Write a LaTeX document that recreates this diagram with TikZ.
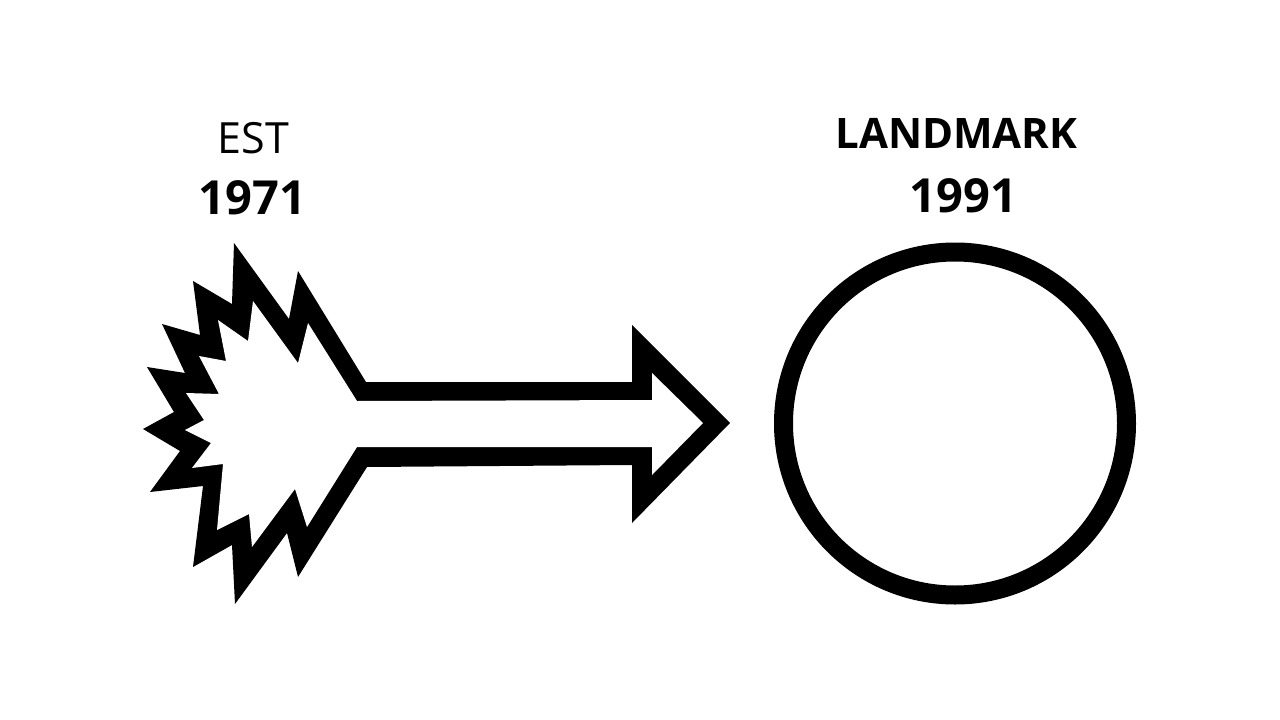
\documentclass[tikz,border=0pt]{standalone}
\usepackage{fontspec}
\setmainfont{Open Sans}
\tikzset{
  lbl/.style={inner sep=0pt,outer sep=0pt,anchor=base,text=black},
  lblreg/.style={lbl,font=\fontsize{43}{43}\selectfont},
  lblbold/.style={lbl,font=\bfseries\fontsize{42}{42}\selectfont},
  lbldigits/.style={lbl,font=\bfseries\fontsize{47}{47}\selectfont},
}
\begin{document}
\begin{tikzpicture}[x=1pt,y=-1pt]
\useasboundingbox[fill=white] (0,0) rectangle (1280,720);
% outer outline of the burst arrow
\fill[black] (366,382) -- (298,271) -- (289,319) -- (234,243) -- (232,304) -- (193,281) -- (200,335) -- (162,324) -- (185,373) -- (147,367) -- (174,412) -- (143,429) -- (180,451) -- (150,492) -- (203,486) -- (193,567) -- (232,545) -- (235,604) -- (287,533) -- (298,577) -- (367,467) -- (632,465) -- (632,523) -- (730,423) -- (632,325) -- (632,382) -- cycle;
% inner white of the burst arrow
\fill[white] (357,401) -- (308,323) -- (298,363) -- (253,301) -- (248,341) -- (218,320) -- (226,361) -- (199,356) -- (219,394) -- (186,393) -- (204,420) -- (185,430) -- (211,443) -- (192,468) -- (223,464) -- (217,530) -- (249,514) -- (252,547) -- (295,489) -- (307,527) -- (357,447) -- (652,447) -- (652,475) -- (703,423) -- (652,373) -- (652,400) -- cycle;
\node[draw=black,line width=19pt,circle,minimum size=343pt,inner sep=0pt] (ring) at (955,423.5) {};
\node[lblreg] (est) at (253.5,153) {EST};
\node[lbldigits] (y1971) at (252.5,214) {1971};
\node[lblbold] (landmark) at (956.5,148) {LANDMARK};
\node[lbldigits] (y1991) at (963.5,212) {1991};
\end{tikzpicture}
\end{document}
